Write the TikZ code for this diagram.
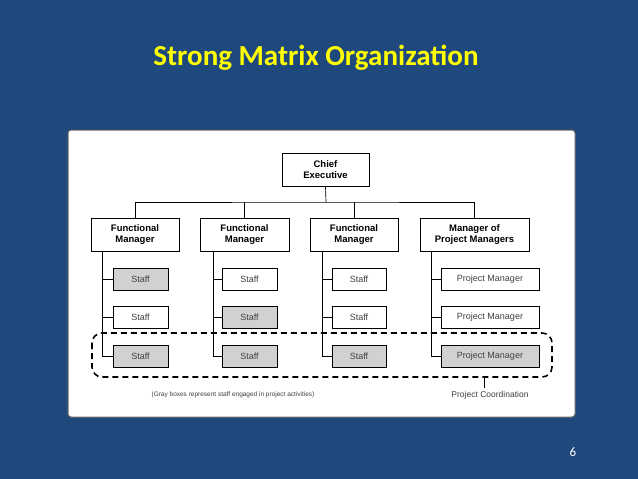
\documentclass[tikz,border=0pt]{standalone}
\usepackage{fontspec}
\setmainfont{Liberation Sans}
\newfontfamily\titlefont{Carlito}
\begin{document}
\begin{tikzpicture}[x=1pt,y=-1pt,
  box/.style={draw=black,line width=0.7pt,fill=white,inner sep=0pt,font=\fontsize{9}{9}\selectfont,text=black!75},
  gbox/.style={box,fill=black!18},
  mgr/.style={draw=black,line width=0.7pt,fill=white,inner sep=0pt,align=center,font=\bfseries\fontsize{9.5}{10.5}\selectfont},
  ln/.style={line width=0.7pt}]
\fill[fill={rgb,255:red,31;green,73;blue,125}] (0,0) rectangle (638,479);
\useasboundingbox (0,0) rectangle (638,479);
\node[text={rgb,255:red,255;green,255;blue,0},font=\titlefont\bfseries\fontsize{29}{32}\selectfont] (title) at (316,58) {Strong Matrix Organization};
\node[text=white,font=\titlefont\fontsize{13}{14}\selectfont] (pg) at (573,452) {6};
\draw[fill=white,draw=black!60,line width=1pt,rounded corners=3pt] (68,130) rectangle (575,417);
\node[mgr,minimum width=87pt,minimum height=33pt] (ce) at (325.5,169.5) {Chief\\Executive};
\node[mgr,minimum width=88pt,minimum height=33pt] (f1) at (135,234.5) {Functional\\Manager};
\node[mgr,minimum width=89pt,minimum height=33pt] (f2) at (244.5,234.5) {Functional\\Manager};
\node[mgr,minimum width=88pt,minimum height=33pt] (f3) at (354,234.5) {Functional\\Manager};
\node[mgr,minimum width=109pt,minimum height=33pt] (f4) at (474.5,234.5) {Manager of\\Project Managers};
\coordinate (bar) at (326,202);
\draw[ln] (ce.south) -- (bar);
\draw[ln] (f1.north) |- (bar) -| (f4.north);
\draw[ln] (f2.north) -- (f2.north |- bar);
\draw[ln] (f3.north) -- (f3.north |- bar);
\foreach \c/\sx/\cx/\w/\a/\b/\cc/\t in {1/102/140.5/55/gbox/box/gbox/Staff,2/213/249.5/55/box/gbox/gbox/Staff,3/322/359/54/box/box/gbox/Staff,4/431/490/98/box/box/gbox/Project Manager}{
  \node[\a,minimum width=\w pt,minimum height=22pt] (s\c a) at (\cx,279) {\t};
  \node[\b,minimum width=\w pt,minimum height=22pt] (s\c b) at (\cx,317.5) {\t};
  \node[\cc,minimum width=\w pt,minimum height=22pt] (s\c c) at (\cx,356) {\t};
  \coordinate (top\c) at (\sx,251);
  \draw[ln] (top\c) |- (s\c c.west);
  \draw[ln] (s\c a.west) -- (s\c a.west -| top\c);
  \draw[ln] (s\c b.west) -- (s\c b.west -| top\c);
}
\draw[line width=1.6pt,dash pattern=on 6pt off 4pt,rounded corners=10pt] (92,333) rectangle (552,377);
\coordinate (tk) at (484,377);
\node[font=\fontsize{8.5}{9}\selectfont,text=black!75] (pc) at (490,395) {Project Coordination};
\draw[ln] (tk) -- (pc.north -| tk);
\node[font=\fontsize{6.5}{7}\selectfont,text=black!75] (note) at (233,395) {(Gray boxes represent staff engaged in project activities)};
\end{tikzpicture}
\end{document}
